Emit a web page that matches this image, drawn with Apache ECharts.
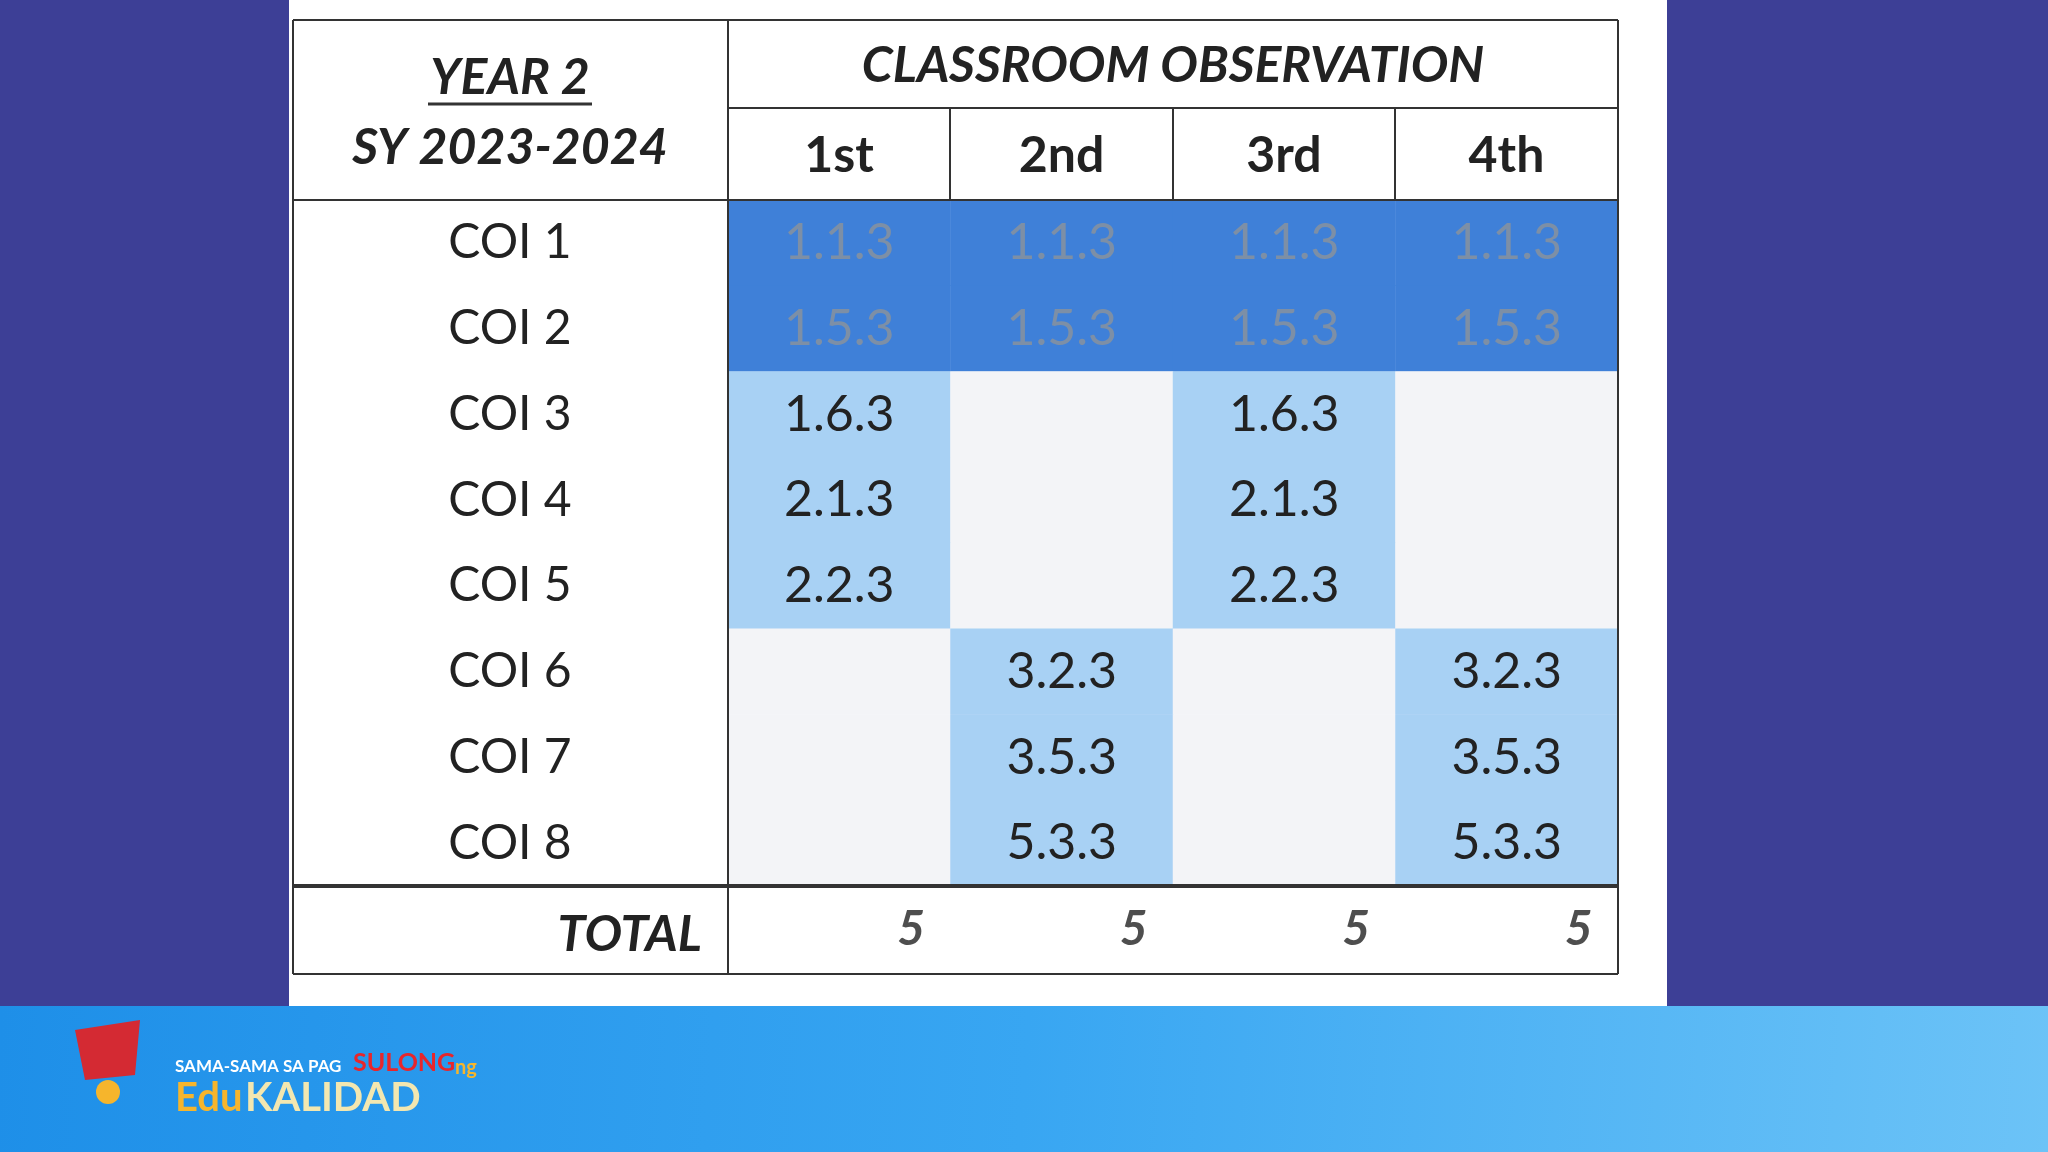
<!DOCTYPE html>
<html>
<head>
<meta charset="utf-8">
<script src="https://cdn.jsdelivr.net/npm/echarts@6/dist/echarts.min.js"></script>
<style>html,body{margin:0;padding:0;background:#3d3f96}#chart{width:2048px;height:1152px}</style>
</head>
<body>
<div id="chart"></div>
<script>
// table data
const quarters = ['1st', '2nd', '3rd', '4th'];
const rows = ['COI 1', 'COI 2', 'COI 3', 'COI 4', 'COI 5', 'COI 6', 'COI 7', 'COI 8'];
const codes = [
  ['1.1.3', '1.1.3', '1.1.3', '1.1.3'],
  ['1.5.3', '1.5.3', '1.5.3', '1.5.3'],
  ['1.6.3', '', '1.6.3', ''],
  ['2.1.3', '', '2.1.3', ''],
  ['2.2.3', '', '2.2.3', ''],
  ['', '3.2.3', '', '3.2.3'],
  ['', '3.5.3', '', '3.5.3'],
  ['', '5.3.3', '', '5.3.3']
];
const totals = [5, 5, 5, 5];
const fixedRows = 2; // rows shared by every quarter (dark blue)

const FONT = 'Lato, "Open Sans", sans-serif';

const cells = [];
codes.forEach((r, yi) => r.forEach((c, xi) => {
  let color = '#f3f4f7', txt = '#222';
  if (yi < fixedRows) { color = '#3f80d8'; txt = '#7d8fa6'; }
  else if (c) color = '#a8d1f4';
  cells.push({ value: [xi, yi, c ? 1 : 0], itemStyle: { color }, label: { color: txt } });
}));

const chart = echarts.init(document.getElementById('chart'));

const L = 293, C1 = 728, R = 1618, T = 20, H1 = 108, H2 = 200, B = 886, TB = 974;
const colX = [728, 950, 1173, 1395, 1618];
const line = (x1, y1, x2, y2, w) => ({ type: 'line', shape: { x1, y1, x2, y2 }, style: { stroke: '#333', lineWidth: w || 2 }, z: 10 });

chart.setOption({
  backgroundColor: '#3d3f96',
  animation: false,
  grid: [
    { left: C1, top: H2, width: R - C1, height: B - H2 },
    { left: C1, top: B, width: R - C1, height: TB - B }
  ],
  xAxis: [
    { type: 'category', data: quarters, gridIndex: 0, show: false },
    { type: 'category', data: quarters, gridIndex: 1, show: false }
  ],
  yAxis: [
    { type: 'category', data: rows, inverse: true, gridIndex: 0,
      axisLine: { show: false }, axisTick: { show: false }, splitLine: { show: false },
      axisLabel: { margin: 218, align: 'center', fontFamily: FONT, fontSize: 48, color: '#222' } },
    { type: 'value', gridIndex: 1, min: 0, max: 2, show: false }
  ],
  graphic: [
    { type: 'rect', shape: { x: 289, y: 0, width: 1378, height: 1006 }, style: { fill: '#ffffff' }, z: 0 },
    { type: 'rect', shape: { x: 0, y: 1006, width: 2048, height: 146 },
      style: { fill: new echarts.graphic.LinearGradient(0, 0, 1, 1, [
        { offset: 0, color: '#1e8fe8' }, { offset: 0.5, color: '#38a6f2' }, { offset: 1, color: '#6cc3f7' }]) }, z: 0 },
    { type: 'text', left: 175, top: 1058, style: { text: 'SAMA-SAMA SA PAG', fontFamily: FONT, fontSize: 17, fill: '#ffffff', fontWeight: 'bold' }, z: 20 },
    { type: 'text', left: 353, top: 1050, style: { text: 'SULONG', fontFamily: FONT, fontSize: 25, fill: '#e8262b', fontWeight: 'bold' }, z: 20 },
    { type: 'text', left: 455, top: 1058, style: { text: 'ng', fontFamily: FONT, fontSize: 20, fill: '#f6b52c', fontWeight: 'bold' }, z: 20 },
    { type: 'text', left: 175, top: 1078, style: { text: 'Edu', fontFamily: FONT, fontSize: 40, fill: '#f6b52c', fontWeight: 'bold' }, z: 20 },
    { type: 'text', left: 245, top: 1078, style: { text: 'KALIDAD', fontFamily: FONT, fontSize: 40, fill: '#f3e7b0', fontWeight: 'bold', letterSpacing: 8 }, z: 20 },
    { type: 'polygon', shape: { points: [[75, 1030], [140, 1020], [135, 1075], [85, 1080]] }, style: { fill: '#d42a33' }, z: 20 },
    { type: 'circle', shape: { cx: 108, cy: 1092, r: 12 }, style: { fill: '#f6b52c' }, z: 20 },
    // header text
    { type: 'text', x: 510, y: 78, style: { text: 'YEAR 2', fontFamily: FONT, fontSize: 50, fontWeight: 'bold', fontStyle: 'italic', fill: '#222', align: 'center', verticalAlign: 'middle' }, z: 20 },
    line(428, 104, 592, 104, 3),
    { type: 'text', x: 510, y: 148, style: { text: 'SY 2023-2024', fontFamily: FONT, fontSize: 50, fontWeight: 'bold', fontStyle: 'italic', fill: '#222', align: 'center', verticalAlign: 'middle' }, z: 20 },
    { type: 'text', x: (C1 + R) / 2, y: 66, style: { text: 'CLASSROOM OBSERVATION', fontFamily: FONT, fontSize: 50, fontWeight: 'bold', fontStyle: 'italic', fill: '#222', align: 'center', verticalAlign: 'middle' }, z: 20 },
    ...quarters.map((q, i) => ({ type: 'text', x: (colX[i] + colX[i + 1]) / 2, y: 156,
      style: { text: q, fontFamily: FONT, fontSize: 50, fontWeight: 'bold', fill: '#222', align: 'center', verticalAlign: 'middle' }, z: 20 })),
    { type: 'text', x: 702, y: 935, style: { text: 'TOTAL', fontFamily: FONT, fontSize: 50, fontWeight: 'bold', fontStyle: 'italic', fill: '#222', align: 'right', verticalAlign: 'middle' }, z: 20 },
    // grid lines
    line(L, T, R, T), line(L, T, L, TB), line(R, T, R, TB), line(L, TB, R, TB),
    line(C1, T, C1, TB), line(C1, H1, R, H1), line(L, H2, R, H2),
    ...colX.slice(1, 4).map(x => line(x, H1, x, H2)),
    line(L, B, R, B, 4)
  ],
  series: [
    { type: 'heatmap', xAxisIndex: 0, yAxisIndex: 0, data: cells,
      label: { show: true, formatter: p => codes[p.value[1]][p.value[0]], fontFamily: FONT, fontSize: 50 } },
    { type: 'scatter', xAxisIndex: 1, yAxisIndex: 1, symbolSize: 0,
      data: totals.map((t, i) => [i, 1, t]),
      label: { show: true, position: 'inside', offset: [72, 0], formatter: p => p.value[2],
        fontFamily: FONT, fontSize: 48, fontWeight: 'bold', fontStyle: 'italic', color: '#222' } }
  ]
});
</script>
</body>
</html>
